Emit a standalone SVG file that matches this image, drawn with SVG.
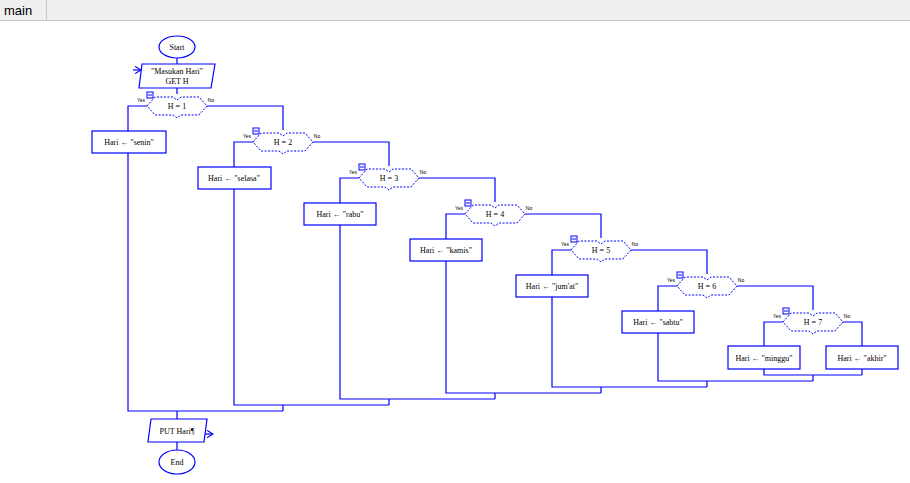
<svg xmlns="http://www.w3.org/2000/svg" width="910" height="483" viewBox="0 0 910 483">
<style>
.s{fill:#fff;stroke:#0000ff;stroke-width:1.2}
.d{fill:#fff;stroke:#0000ff;stroke-width:1;stroke-dasharray:2,1.5}
.c{fill:none;stroke:#0000ff;stroke-width:1.2}
text{font-family:"Liberation Serif",serif;font-size:8px;text-anchor:middle;fill:#000}
.yn{font-family:"Liberation Sans",sans-serif;font-size:5px}
.k{fill:#fff;stroke:#0000ff;stroke-width:1}
</style>
<defs>
<marker id="a" markerWidth="6" markerHeight="6" refX="5" refY="3" orient="auto"><path d="M0,0L5,3L0,6" fill="none" stroke="#0000ff"/></marker>
<g id="dia"><path class="d" d="M-30,0L-22,-9L-4,-9L0,-6L4,-9L22,-9L30,0L22,9L4,9L0,12L-4,9L-22,9Z"/><rect class="k" x="-30" y="-14" width="6" height="6"/><path d="M-29,-11H-25" stroke="#0000ff"/></g>
</defs>
<rect width="910" height="483" fill="#fff"/>
<rect width="910" height="20" fill="#efefef"/>
<path d="M0,20.5H910M46.5,0V20" stroke="#c8c8c8"/>
<text x="4" y="15" style="font-family:'Liberation Sans',sans-serif;font-size:13px;text-anchor:start">main</text>
<g id="connectors" class="c">
<path d="M177,58V64M177,88V94"/>
<path d="M147,106H128V131M128,153V411H283M207,106H283V130M283,405V411M177,411V419M177,442V450"/>
<path d="M253,142H234V167M234,189V405H389M313,142H389V166M389,399V405"/>
<path d="M359,178H340V203M340,225V399H495M419,178H495V202M495,393V399"/>
<path d="M465,214H446V239M446,261V393H601M525,214H601V238M601,387V393"/>
<path d="M571,250H552V275M552,297V387H707M631,250H707V274M707,381V387"/>
<path d="M677,286H658V311M658,333V381H813M737,286H813V310M813,375V381"/>
<path d="M783,322H764V346M764,369V375H862M843,322H862V346M862,369V375"/>
<path d="M133,70H141" marker-end="url(#a)"/>
<path d="M204,434H213" marker-end="url(#a)"/>
</g>
<g id="start"><ellipse class="s" cx="177" cy="47" rx="18" ry="11"/><text x="177" y="50">Start</text></g>
<g id="input"><path class="s" d="M142,64H215L211,88H139Z"/><text x="177" y="74">"Masukan Hari"</text><text x="177" y="84">GET H</text></g>
<g id="d1"><use href="#dia" x="177" y="106"/><text x="177" y="109">H = 1</text><text class="yn" x="141" y="102">Yes</text><text class="yn" x="211" y="102">No</text></g>
<g id="b1"><rect class="s" x="92" y="131" width="74" height="22"/><text x="129" y="145">Hari ← "senin"</text></g>
<g id="d2"><use href="#dia" x="283" y="142"/><text x="283" y="145">H = 2</text><text class="yn" x="247" y="138">Yes</text><text class="yn" x="317" y="138">No</text></g>
<g id="b2"><rect class="s" x="198" y="167" width="73" height="22"/><text x="234" y="181">Hari ← "selasa"</text></g>
<g id="d3"><use href="#dia" x="389" y="178"/><text x="389" y="181">H = 3</text><text class="yn" x="353" y="174">Yes</text><text class="yn" x="423" y="174">No</text></g>
<g id="b3"><rect class="s" x="304" y="203" width="72" height="22"/><text x="340" y="217">Hari ← "rabu"</text></g>
<g id="d4"><use href="#dia" x="495" y="214"/><text x="495" y="217">H = 4</text><text class="yn" x="459" y="210">Yes</text><text class="yn" x="529" y="210">No</text></g>
<g id="b4"><rect class="s" x="410" y="239" width="72" height="22"/><text x="446" y="253">Hari ← "kamis"</text></g>
<g id="d5"><use href="#dia" x="601" y="250"/><text x="601" y="253">H = 5</text><text class="yn" x="565" y="246">Yes</text><text class="yn" x="635" y="246">No</text></g>
<g id="b5"><rect class="s" x="516" y="275" width="72" height="22"/><text x="552" y="289">Hari ← "jum'at"</text></g>
<g id="d6"><use href="#dia" x="707" y="286"/><text x="707" y="289">H = 6</text><text class="yn" x="671" y="282">Yes</text><text class="yn" x="741" y="282">No</text></g>
<g id="b6"><rect class="s" x="622" y="311" width="72" height="22"/><text x="658" y="325">Hari ← "sabtu"</text></g>
<g id="d7"><use href="#dia" x="813" y="322"/><text x="813" y="325">H = 7</text><text class="yn" x="777" y="318">Yes</text><text class="yn" x="847" y="318">No</text></g>
<g id="b7"><rect class="s" x="728" y="346" width="72" height="23"/><text x="764" y="361">Hari ← "minggu"</text></g>
<g id="b8"><rect class="s" x="826" y="346" width="72" height="23"/><text x="862" y="361">Hari ← "akhir"</text></g>
<g id="output"><path class="s" d="M151,419H207L204,442H148Z"/><text x="177" y="434">PUT Hari¶</text></g>
<g id="end"><ellipse class="s" cx="177" cy="462" rx="18" ry="12"/><text x="177" y="465">End</text></g>
</svg>
